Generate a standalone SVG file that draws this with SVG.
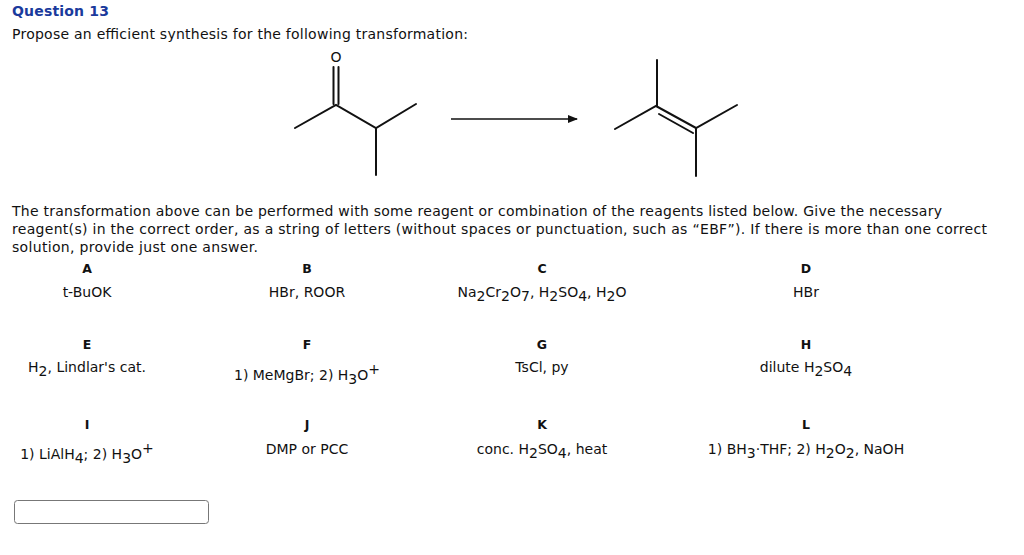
<svg xmlns="http://www.w3.org/2000/svg" width="1024" height="555" viewBox="0 0 1024 555">
<style>
text{font-family:"DejaVu Sans",Verdana,sans-serif;font-size:14px;fill:#111}
.t{font-size:14px}
.h{font-weight:bold;font-size:14px;fill:#1a3a9c}
.l{font-weight:bold;font-size:12.5px;text-anchor:middle}
.v{text-anchor:middle}
.b{stroke:#111;stroke-width:2;fill:none;stroke-linecap:round}
</style>
<defs><marker id="ar" markerWidth="10" markerHeight="8" refX="9" refY="4" orient="auto" markerUnits="userSpaceOnUse"><path d="M0,0 L10,4 L0,8 Z" fill="#111"/></marker></defs>
<rect width="1024" height="555" fill="#fff"/>
<text class="h" x="12" y="16" textLength="97">Question 13</text>
<text class="t" x="12" y="39" textLength="456">Propose an efficient synthesis for the following transformation:</text>
<g id="reactant">
<text x="336" y="62" text-anchor="middle" style="font-size:14px">O</text>
<path class="b" d="M333.5,67 V104 M338.5,67 V104 M295,128 L336,105 L376,128 L416,104 M376,128 V175"/>
</g>
<g id="connectors"><line x1="451" y1="119" x2="577" y2="119" stroke="#111" stroke-width="1.5" marker-end="url(#ar)"/></g>
<g id="product">
<path class="b" d="M657,60 V106 M615,129 L656,106 L696,128 L737,105 M696,128 V176 M659,114 L693,133"/>
</g>
<text class="t" x="12" y="216" textLength="930">The transformation above can be performed with some reagent or combination of the reagents listed below. Give the necessary</text>
<text class="t" x="12" y="234" textLength="975">reagent(s) in the correct order, as a string of letters (without spaces or punctuation, such as “EBF”). If there is more than one correct</text>
<text class="t" x="12" y="252" textLength="246">solution, provide just one answer.</text>
<g id="A"><text class="l" x="87" y="273">A</text><text class="v" x="87" y="297">t-BuOK</text></g>
<g id="B"><text class="l" x="307" y="273">B</text><text class="v" x="307" y="297">HBr, ROOR</text></g>
<g id="C"><text class="l" x="542" y="273">C</text><text class="v" x="542" y="297">Na<tspan dy="4">2</tspan><tspan dy="-4">Cr</tspan><tspan dy="4">2</tspan><tspan dy="-4">O</tspan><tspan dy="4">7</tspan><tspan dy="-4">, H</tspan><tspan dy="4">2</tspan><tspan dy="-4">SO</tspan><tspan dy="4">4</tspan><tspan dy="-4">, H</tspan><tspan dy="4">2</tspan><tspan dy="-4">O</tspan></text></g>
<g id="D"><text class="l" x="806" y="273">D</text><text class="v" x="806" y="297">HBr</text></g>
<g id="E"><text class="l" x="87" y="349">E</text><text class="v" x="87" y="372">H<tspan dy="4">2</tspan><tspan dy="-4">, Lindlar's cat.</tspan></text></g>
<g id="F"><text class="l" x="307" y="349">F</text><text class="v" x="307" y="380">1) MeMgBr; 2) H<tspan dy="4">3</tspan><tspan dy="-4">O</tspan><tspan dy="-6">+</tspan></text></g>
<g id="G"><text class="l" x="542" y="349">G</text><text class="v" x="542" y="372">TsCl, py</text></g>
<g id="H"><text class="l" x="806" y="349">H</text><text class="v" x="806" y="372">dilute H<tspan dy="4">2</tspan><tspan dy="-4">SO</tspan><tspan dy="4">4</tspan></text></g>
<g id="I"><text class="l" x="87" y="429">I</text><text class="v" x="87" y="459">1) LiAlH<tspan dy="4">4</tspan><tspan dy="-4">; 2) H</tspan><tspan dy="4">3</tspan><tspan dy="-4">O</tspan><tspan dy="-6">+</tspan></text></g>
<g id="J"><text class="l" x="307" y="429">J</text><text class="v" x="307" y="454">DMP or PCC</text></g>
<g id="K"><text class="l" x="542" y="429">K</text><text class="v" x="542" y="454">conc. H<tspan dy="4">2</tspan><tspan dy="-4">SO</tspan><tspan dy="4">4</tspan><tspan dy="-4">, heat</tspan></text></g>
<g id="L"><text class="l" x="806" y="429">L</text><text class="v" x="806" y="454">1) BH<tspan dy="4">3</tspan><tspan dy="-4">·THF; 2) H</tspan><tspan dy="4">2</tspan><tspan dy="-4">O</tspan><tspan dy="4">2</tspan><tspan dy="-4">, NaOH</tspan></text></g>
<rect x="14.5" y="500.5" width="194" height="23" rx="3" fill="#fff" stroke="#777"/>
</svg>
